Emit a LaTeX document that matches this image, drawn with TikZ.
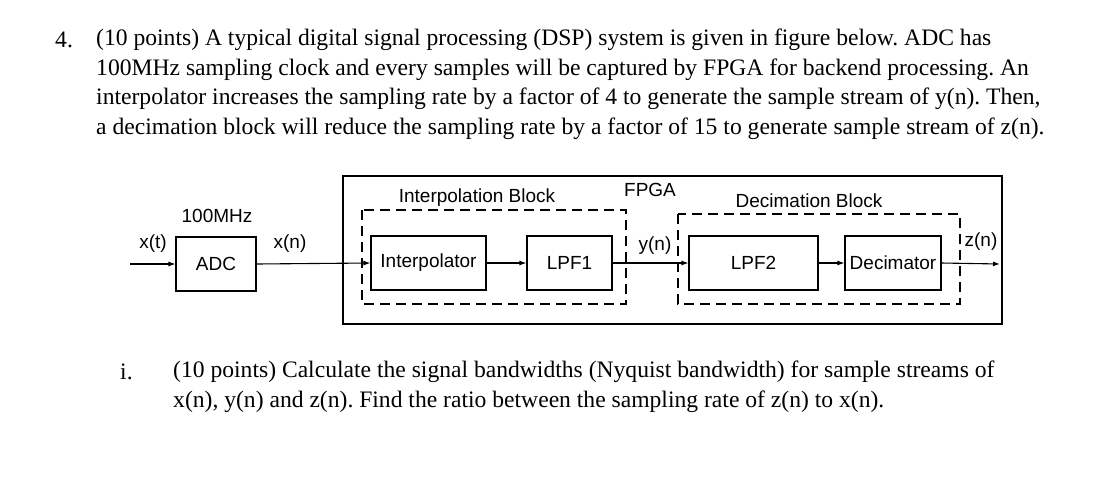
\documentclass[tikz,border=0pt]{standalone}
\usepackage{fontspec}
\setmainfont{Liberation Serif}
\newfontfamily\dsans{Liberation Sans}
\usetikzlibrary{arrows.meta}
\frenchspacing
\begin{document}
\begin{tikzpicture}[x=1pt,y=-1pt,
  blk/.style={draw,line width=1.1pt,minimum width=#1,minimum height=54pt,inner sep=0pt,font=\dsans\fontsize{19}{19}\selectfont},
  lbl/.style={font=\dsans\fontsize{19}{19}\selectfont,inner sep=0pt},
  txt/.style={anchor=west,inner sep=0pt,font=\fontsize{23.6}{24}\selectfont},
  dbox/.style={draw,dashed,dash pattern=on 10pt off 6pt,line width=1.1pt},
  arr/.style={-{Latex[length=7pt,width=5pt]},line width=1.1pt}]
\useasboundingbox (0,0) rectangle (1107,479);
\node[txt] (n4) at (55,40) {4.};
\node[txt] (l1) at (96,40) {(10 points) A typical digital signal processing (DSP) system is given in figure below. ADC has};
\node[txt] (l2) at (96,70) {100MHz sampling clock and every samples will be captured by FPGA for backend processing. An};
\node[txt] (l3) at (96,99) {interpolator increases the sampling rate by a factor of 4 to generate the sample stream of y(n). Then,};
\node[txt] (l4) at (96,129) {a decimation block will reduce the sampling rate by a factor of 15 to generate sample stream of z(n).};
\node[txt] (ni) at (120,372) {i.};
\node[txt] (q1) at (173,372) {(10 points) Calculate the signal bandwidths (Nyquist bandwidth) for sample streams of};
\node[txt] (q2) at (173,402) {x(n), y(n) and z(n). Find the ratio between the sampling rate of z(n) to x(n).};
% FPGA
\draw[line width=1.1pt] (343,176) rectangle (1002,324);
\node[lbl] (fpga) at (650,190) {FPGA};
\draw[dbox] (362,210) rectangle (626,304);
\draw[dbox] (678,214) rectangle (960,304);
\node[lbl] (ib) at (477,198) {Interpolation Block};
\node[lbl] (db) at (809,201) {Decimation Block};
% blocks
\node[blk=80pt] (adc) at (216,264) {ADC};
\node[blk=115pt] (int) at (428.5,263) {Interpolator};
\node[blk=85pt] (lpf1) at (569.5,263) {LPF1};
\node[blk=129pt] (lpf2) at (753.5,263) {LPF2};
\node[blk=96pt] (dec) at (893,263) {Decimator};
\node[lbl] (mhz) at (217,216) {100MHz};
\node[lbl] (xt) at (153,244) {x(t)};
\node[lbl] (xn) at (290,244) {x(n)};
\node[lbl] (yn) at (655,246) {y(n)};
\node[lbl] (zn) at (981,242) {z(n)};
\coordinate (in) at (130,264);
\coordinate (out) at (1000,264);
\draw[arr] (in) -- (adc.west);
\draw[arr] (adc.east) -- (int.west);
\draw[arr] (int.east) -- (lpf1.west);
\draw[arr] (lpf1.east) -- (lpf2.west);
\draw[arr] (lpf2.east) -- (dec.west);
\draw[arr] (dec.east) -- (out);
\end{tikzpicture}
\end{document}
